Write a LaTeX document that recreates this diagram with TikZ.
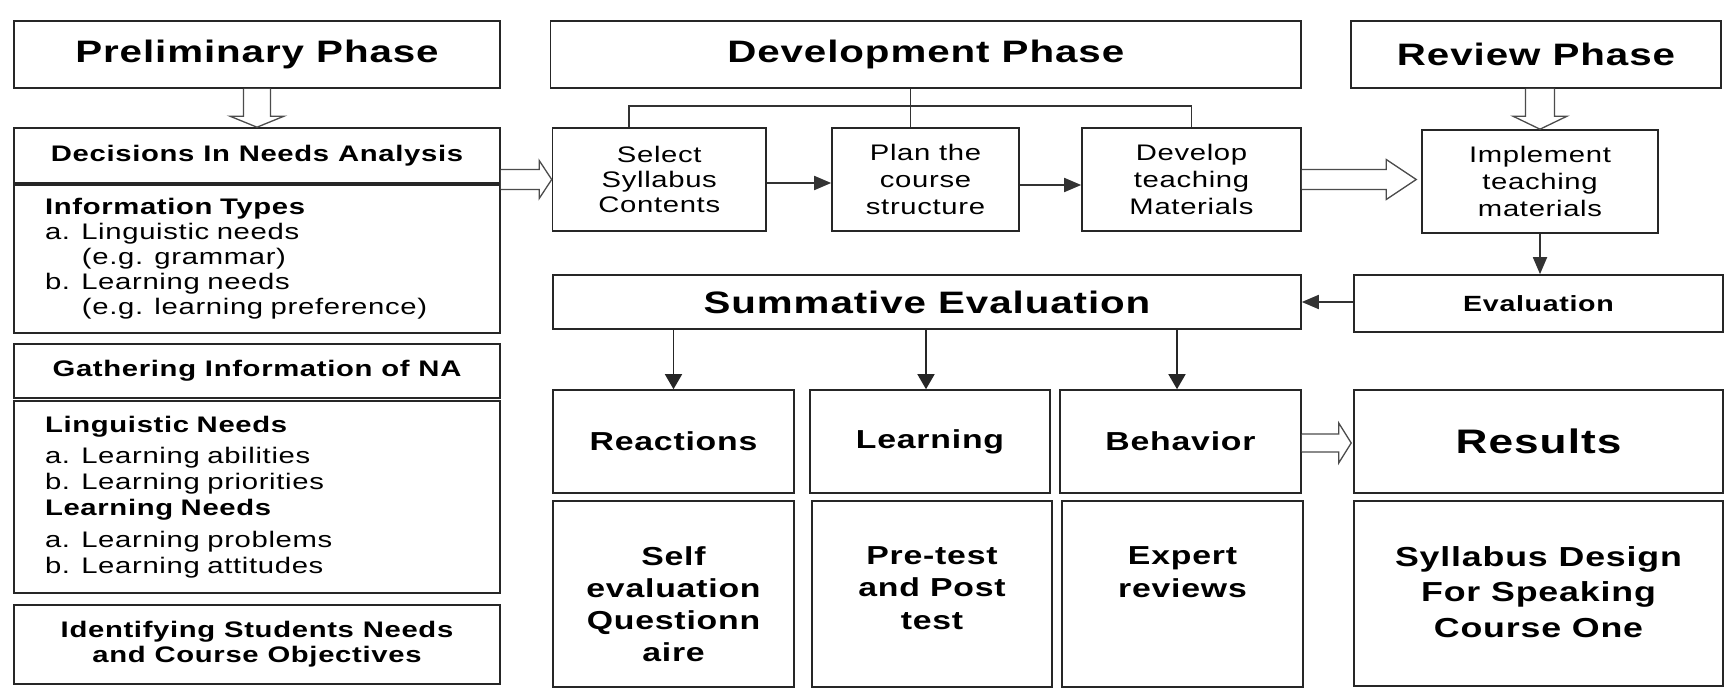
\documentclass[tikz,border=0pt]{standalone}
\usepackage{fontspec}
\setmainfont{Liberation Sans}[FakeStretch=1.3,LetterSpace=3]
\usetikzlibrary{calc,arrows.meta}
\newcommand{\fs}[2]{\fontsize{#1}{#2}\selectfont}
\begin{document}
\begin{tikzpicture}[x=1pt,y=-1pt,
  bx/.style={draw=black!85, line width=1.6pt, inner sep=0pt, align=center, fill=white},
  txt/.style={inner sep=0pt, align=center},
  arr/.style={line width=1.8pt, draw=black!80, -{Triangle[length=17pt,width=14pt]}},
  arrs/.style={line width=1.5pt, draw=black!85, -{Triangle[length=15pt,width=17pt]}},
  hollow/.style={draw=black!70, line width=1.3pt, fill=white, line join=miter},
  ln/.style={draw=black!80, line width=1.8pt}]
\useasboundingbox[fill=white] (0,0) rectangle (1727,698);

% ---------- left column ----------
\node[bx, minimum width=486pt, minimum height=67pt, font=\fs{31}{36}\bfseries] (pre) at (257,54.5) {Preliminary Phase};
\node[bx, minimum width=486pt, minimum height=55pt, font=\fs{22.5}{25}\bfseries] (dec) at (257,155.5) {Decisions In Needs Analysis};
\node[bx, minimum width=486pt, minimum height=148pt, text width=424pt, align=left, font=\fs{22.5}{25}] (info) at (257,259)
  {\textbf{Information Types}\\
   a. Linguistic needs\\
   \hspace*{37pt}(e.g. grammar)\\
   b. Learning needs\\
   \hspace*{37pt}(e.g. learning preference)};
\node[bx, minimum width=486pt, minimum height=54pt, font=\fs{22.5}{25}\bfseries] (gath) at (257,371) {Gathering Information of NA};
\node[bx, minimum width=486pt, minimum height=192pt, text width=424pt, align=left, font=\fs{22.5}{26}] (ling) at (257,497)
  {\textbf{Linguistic Needs}\\[5pt]
   a. Learning abilities\\
   b. Learning priorities\\
   \textbf{Learning Needs}\\[6pt]
   a. Learning problems\\
   b. Learning attitudes};
\node[bx, minimum width=486pt, minimum height=79pt, font=\fs{22.5}{25}\bfseries] (iden) at (257,644.5) {Identifying Students Needs\\and Course Objectives};

% ---------- development phase ----------
\node[bx, minimum width=750.5pt, minimum height=67pt, font=\fs{31}{36}\bfseries] (dev) at (925.75,54.5) {Development Phase};
\node[bx, minimum width=213.5pt, minimum height=103pt, font=\fs{22.5}{25}] (sel) at (659.25,179.5) {Select\\Syllabus\\Contents};
\node[bx, minimum width=187pt, minimum height=103pt, font=\fs{22.5}{27}] (plan) at (925.5,179.5) {Plan the\\course\\structure};
\node[bx, minimum width=219pt, minimum height=103pt, font=\fs{22.5}{27}] (devl) at (1191.5,179.5) {Develop\\teaching\\Materials};

\node[bx, minimum width=748pt, minimum height=54pt, font=\fs{31}{36}\bfseries] (sum) at (927,302) {Summative Evaluation};
\node[bx, minimum width=241pt, minimum height=103pt, font=\fs{26}{32}\bfseries] (react) at (673.5,441.5) {Reactions};
\node[bx, minimum width=240pt, minimum height=103pt, font=\fs{26}{32}\bfseries] (learn) at (930,441.5) {Learning};
\node[bx, minimum width=241pt, minimum height=103pt, font=\fs{26}{32}\bfseries] (behav) at (1180.5,441.5) {Behavior};
\node[bx, minimum width=241pt, minimum height=186pt] (reactL) at (673.5,594) {};
\node[bx, minimum width=240pt, minimum height=186pt] (learnL) at (932,594) {};
\node[bx, minimum width=241pt, minimum height=186pt] (behavL) at (1182.5,594) {};
\node[txt, anchor=north, font=\fs{26}{32}\bfseries] (reactT) at ($(reactL.north)+(0,46)$) {Self\\evaluation\\Questionn\\aire};
\node[txt, anchor=north, font=\fs{26}{32.5}\bfseries] (learnT) at ($(learnL.north)+(0,46)$) {Pre-test\\and Post\\test};
\node[txt, anchor=north, font=\fs{26}{33}\bfseries] (behavT) at ($(behavL.north)+(0,46)$) {Expert\\reviews};

% ---------- review phase ----------
\node[bx, minimum width=370pt, minimum height=67pt, font=\fs{31}{36}\bfseries] (rev) at (1536,54.5) {Review Phase};
\node[bx, minimum width=236pt, minimum height=103pt, font=\fs{22.5}{27}] (impl) at (1540,181.5) {Implement\\teaching\\materials};
\node[bx, minimum width=369pt, minimum height=57pt, font=\fs{22}{25}\bfseries] (eval) at (1538.5,303.5) {Evaluation};
\node[bx, minimum width=369pt, minimum height=103pt, font=\fs{34}{38}\bfseries] (res) at (1538.5,441.5) {Results};
\node[bx, minimum width=369pt, minimum height=185pt] (resL) at (1538.5,593.5) {};
\node[txt, anchor=north, font=\fs{27.5}{35.5}\bfseries] (resT) at ($(resL.north)+(0,46)$) {Syllabus Design\\For Speaking\\Course One};

% ---------- bracket from Development Phase ----------
\coordinate (bk) at ($(plan.north)+(-15,0)$);
\coordinate (s1) at ($(sel.north)+(-30,0)$);
\draw[ln] (s1) -- ++(0,-21) -| (devl.north);
\draw[ln] (bk |- dev.south) -- (bk);

% ---------- black arrows ----------
\draw[arr] ($(sel.east)+(0,3.5)$) -- ($(sel.east -| plan.west)+(0,3.5)$);
\draw[arr] ($(plan.east)+(0,5.5)$) -- ($(plan.east -| devl.west)+(0,5.5)$);
\draw[arr] (impl.south) -- (impl.south |- eval.north);
\draw[arr] (eval.west |- sum.east) -- (sum.east);
\coordinate (ra) at (react.north);
\coordinate (la) at ($(learn.north)+(-4,0)$);
\coordinate (ba) at ($(behav.north)+(-3.5,0)$);
\draw[arrs] (ra |- sum.south) -- (ra);
\draw[arrs] (la |- sum.south) -- (la);
\draw[arrs] (ba |- sum.south) -- (ba);

% ---------- hollow arrows ----------
% Preliminary -> Decisions
\coordinate (v1s) at (pre.south);
\coordinate (v1e) at (dec.north);
\draw[hollow] ($(v1s)+(-13.5,0)$) -- ($(v1e)+(-13.5,-11)$) -- ($(v1e)+(-27,-11)$) -- (v1e)
  -- ($(v1e)+(27,-11)$) -- ($(v1e)+(13.5,-11)$) -- ($(v1s)+(13.5,0)$);
% Review -> Implement
\coordinate (v2s) at (impl.north |- rev.south);
\coordinate (v2e) at (impl.north);
\draw[hollow] ($(v2s)+(-14.5,0)$) -- ($(v2e)+(-14.5,-13)$) -- ($(v2e)+(-27,-13)$) -- (v2e)
  -- ($(v2e)+(27,-13)$) -- ($(v2e)+(14.5,-13)$) -- ($(v2s)+(14.5,0)$);
% Decisions -> Select
\coordinate (h1s) at (dec.east |- sel.west);
\coordinate (h1e) at (sel.west);
\draw[hollow] ($(h1s)+(0,-10)$) -- ($(h1e)+(-12.5,-10)$) -- ($(h1e)+(-12.5,-19)$) -- (h1e)
  -- ($(h1e)+(-12.5,19)$) -- ($(h1e)+(-12.5,10)$) -- ($(h1s)+(0,10)$);
% Develop -> Implement
\coordinate (h2s) at (devl.east);
\coordinate (h2e) at ($(devl.east -| impl.west)+(-5,0)$);
\draw[hollow] ($(h2s)+(0,-10)$) -- ($(h2e)+(-30,-10)$) -- ($(h2e)+(-30,-20)$) -- (h2e)
  -- ($(h2e)+(-30,20)$) -- ($(h2e)+(-30,10)$) -- ($(h2s)+(0,10)$);
% Behavior -> Results
\coordinate (h3s) at ($(behav.east)+(0,1.5)$);
\coordinate (h3e) at ($(h3s -| res.west)+(-2,0)$);
\draw[hollow] ($(h3s)+(0,-9)$) -- ($(h3e)+(-12.5,-9)$) -- ($(h3e)+(-12.5,-20)$) -- (h3e)
  -- ($(h3e)+(-12.5,20)$) -- ($(h3e)+(-12.5,9)$) -- ($(h3s)+(0,9)$);
\end{tikzpicture}
\end{document}
